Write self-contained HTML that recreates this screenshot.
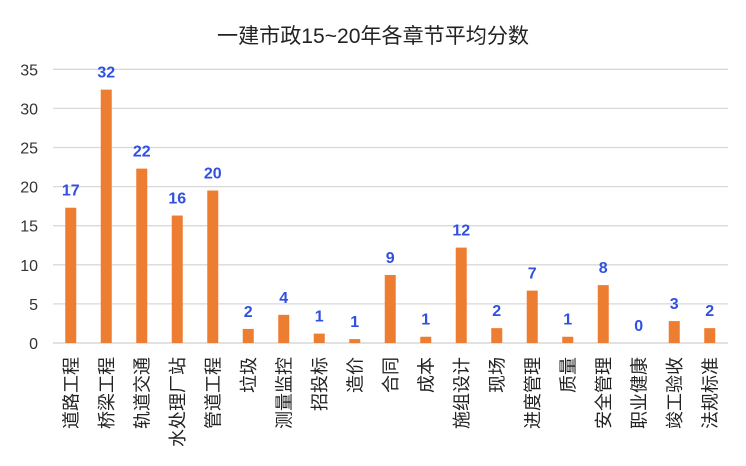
<!DOCTYPE html>
<html><head><meta charset="utf-8"><style>
html,body{margin:0;padding:0;background:#fff;}
svg{display:block;font-family:"Liberation Sans","Noto Sans CJK SC",sans-serif;}
</style></head><body>
<svg id="s" width="746" height="466" xmlns="http://www.w3.org/2000/svg">
<rect width="746" height="466" fill="#fff"/>
<text x="373" y="43" font-size="21" text-anchor="middle" fill="#222" textLength="312" lengthAdjust="spacingAndGlyphs">一建市政15~20年各章节平均分数</text>
</svg>
<script>
(function(){
var s=document.getElementById('s'),NS='http://www.w3.org/2000/svg';
function el(t,a,txt){var e=document.createElementNS(NS,t);for(var k in a)e.setAttribute(k,a[k]);if(txt!=null)e.textContent=txt;s.appendChild(e);return e;}
var y0=343,u=7.82;
for(var v=0;v<=35;v+=5){var yy=y0-v*u;el('line',{x1:53,x2:728,y1:yy,y2:yy,stroke:v?'#d9d9d9':'#cfcfcf','stroke-width':1.3});
el('text',{x:38,y:yy+6,'font-size':16,'text-anchor':'end',fill:'#333'},String(v));}
var names=['道路工程','桥梁工程','轨道交通','水处理厂站','管道工程','垃圾','测量监控','招投标','造价','合同','成本','施组设计','现场','进度管理','质量','安全管理','职业健康','竣工验收','法规标准'];
var vals=[17.3,32.4,22.3,16.3,19.5,1.8,3.6,1.2,0.5,8.7,0.8,12.2,1.9,6.7,0.8,7.4,0,2.8,1.9];
var labs=[17,32,22,16,20,2,4,1,1,9,1,12,2,7,1,8,0,3,2];
for(var i=0;i<19;i++){var c=70.75+35.5*i,h=vals[i]*u,bt=y0-h;
if(h>0)el('rect',{x:c-5.5,y:bt,width:11,height:h,fill:'#ED7D31'});
el('text',{x:c,y:bt-12,'font-size':16,'font-weight':'bold','text-anchor':'middle',fill:'#2F50E0'},String(labs[i]));
el('text',{x:0,y:0,'font-size':18,'text-anchor':'end',fill:'#222',transform:'translate('+(c+6.5)+',357) rotate(-90)'},names[i]);}
})();
</script>
</body></html>
